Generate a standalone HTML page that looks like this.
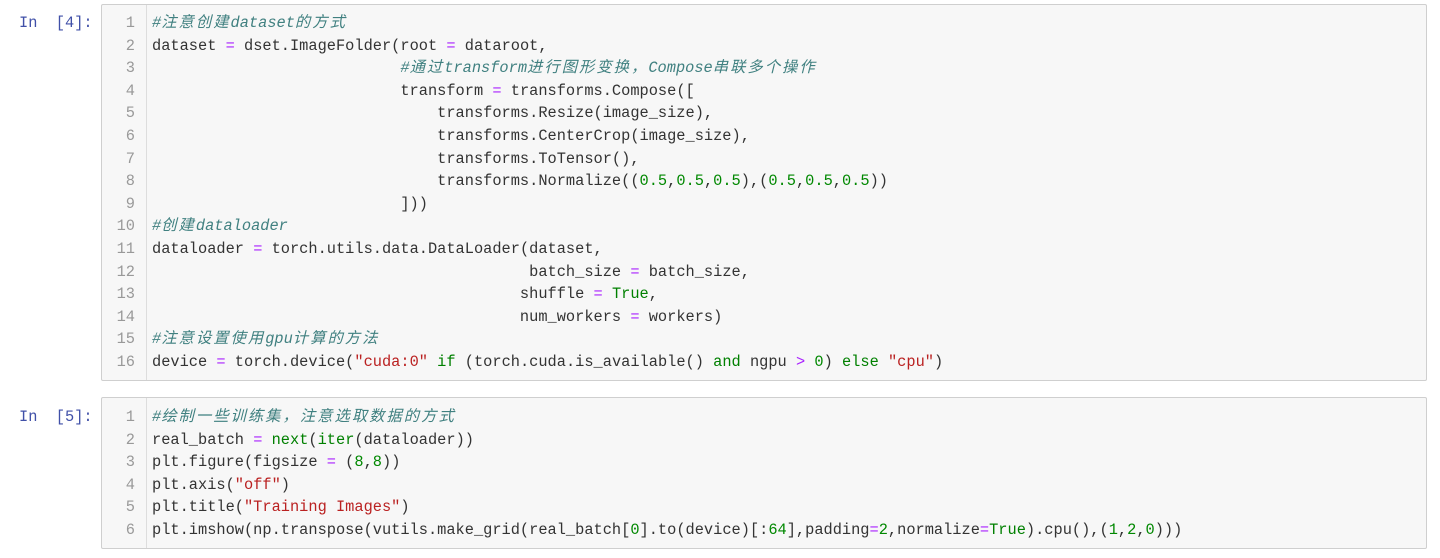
<!DOCTYPE html>
<html><head><meta charset="utf-8"><style>
body{margin:0;width:1440px;height:558px;background:#fff;overflow:hidden;font-family:"Liberation Mono","Noto Sans CJK SC",monospace;font-size:15.33px;}
.prompt{position:absolute;left:19px;color:#4050a8;white-space:pre;line-height:22.6px;}
.box{position:absolute;left:101px;width:1324px;background:#f7f7f7;border:1px solid #cfcfcf;border-radius:2px;}
.gut{position:absolute;left:0;top:0;bottom:0;width:44px;border-right:1px solid #ddd;}
.nums{position:absolute;left:0;width:33px;text-align:right;color:#999;white-space:pre;line-height:22.6px;}
pre{position:absolute;left:50px;margin:0;font:inherit;line-height:22.6px;color:#333;white-space:pre;}
.c{color:#408080;font-style:italic}.k{color:#008000}.s{color:#ba2121}.o{color:#aa22ff}.n{color:#080}.b{color:#008000}
.z{letter-spacing:2px}
</style></head><body>
<div class="prompt" style="top:12px">In  [4]:</div>
<div class="box" style="top:4px;height:375px">
<div class="gut"></div>
<div class="nums" style="top:7px">1
2
3
4
5
6
7
8
9
10
11
12
13
14
15
16</div>
<pre style="top:7px"><span class="c">#<span class="z">注意创建</span>dataset<span class="z">的方式</span></span>
dataset <span class="o">=</span> dset.ImageFolder(root <span class="o">=</span> dataroot,
                           <span class="c">#<span class="z">通过</span>transform<span class="z">进行图形变换，</span>Compose<span class="z">串联多个操作</span></span>
                           transform <span class="o">=</span> transforms.Compose([
                               transforms.Resize(image_size),
                               transforms.CenterCrop(image_size),
                               transforms.ToTensor(),
                               transforms.Normalize((<span class="n">0.5</span>,<span class="n">0.5</span>,<span class="n">0.5</span>),(<span class="n">0.5</span>,<span class="n">0.5</span>,<span class="n">0.5</span>))
                           ]))
<span class="c">#<span class="z">创建</span>dataloader</span>
dataloader <span class="o">=</span> torch.utils.data.DataLoader(dataset,
                                         batch_size <span class="o">=</span> batch_size,
                                        shuffle <span class="o">=</span> <span class="k">True</span>,
                                        num_workers <span class="o">=</span> workers)
<span class="c">#<span class="z">注意设置使用</span>gpu<span class="z">计算的方法</span></span>
device <span class="o">=</span> torch.device(<span class="s">"cuda:0"</span> <span class="k">if</span> (torch.cuda.is_available() <span class="k">and</span> ngpu <span class="o">&gt;</span> <span class="n">0</span>) <span class="k">else</span> <span class="s">"cpu"</span>)</pre>
</div>
<div class="prompt" style="top:406px">In  [5]:</div>
<div class="box" style="top:397px;height:150px">
<div class="gut"></div>
<div class="nums" style="top:8px">1
2
3
4
5
6</div>
<pre style="top:8px"><span class="c">#<span class="z">绘制一些训练集，注意选取数据的方式</span></span>
real_batch <span class="o">=</span> <span class="b">next</span>(<span class="b">iter</span>(dataloader))
plt.figure(figsize <span class="o">=</span> (<span class="n">8</span>,<span class="n">8</span>))
plt.axis(<span class="s">"off"</span>)
plt.title(<span class="s">"Training Images"</span>)
plt.imshow(np.transpose(vutils.make_grid(real_batch[<span class="n">0</span>].to(device)[:<span class="n">64</span>],padding<span class="o">=</span><span class="n">2</span>,normalize<span class="o">=</span><span class="k">True</span>).cpu(),(<span class="n">1</span>,<span class="n">2</span>,<span class="n">0</span>)))</pre>
</div>
</body></html>
